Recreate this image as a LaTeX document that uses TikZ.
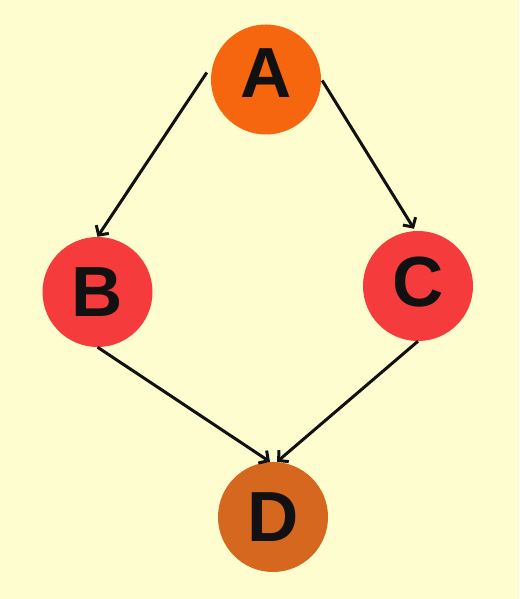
\documentclass[tikz,border=0pt]{standalone}
\usepackage{fontspec}
\setmainfont{Liberation Sans}
\usetikzlibrary{arrows.meta,calc}
\definecolor{bgc}{HTML}{FDFDD0}
\definecolor{aorange}{HTML}{F5660F}
\definecolor{bcred}{HTML}{F53B3B}
\definecolor{dbrown}{HTML}{D6671F}
\definecolor{ink}{HTML}{111111}
\newcommand{\liftlab}[2]{\raisebox{#1}[\height][0pt]{#2}}
\begin{document}
\begin{tikzpicture}[x=1pt,y=1pt,
  vert/.style={circle,minimum size=110pt,inner sep=0pt,text=ink,font=\fontsize{71}{71}\selectfont\bfseries},
  conn/.style={draw=ink,line width=3pt,-{Straight Barb[length=7pt,width=15pt,line width=3pt]}}]
\fill[bgc] (0,0) rectangle (519,599);
\useasboundingbox (0,0) rectangle (519,599);
\node[vert,fill=aorange] (A) at (266,519.5) {\liftlab{6pt}{A}};
\node[vert,fill=bcred] (B) at (97.5,307) {B};
\node[vert,fill=bcred] (C) at (418,313) {\liftlab{4pt}{C}};
\node[vert,fill=dbrown] (D) at (273,82) {D};
\coordinate (a1) at ($(A.west)+(-4pt,7pt)$);
\coordinate (a2) at ($(A.east)+(1pt,-1pt)$);
\coordinate (d1) at ($(D.north)+(-3pt,0)$);
\coordinate (d2) at ($(D.north)+(4pt,0)$);
\draw[conn] (a1) -- (B.north);
\draw[conn] (a2) -- ($(C.north)+(-4pt,2pt)$);
\draw[conn] (B.south) -- (d1);
\draw[conn] (C.south) -- (d2);
\end{tikzpicture}
\end{document}
